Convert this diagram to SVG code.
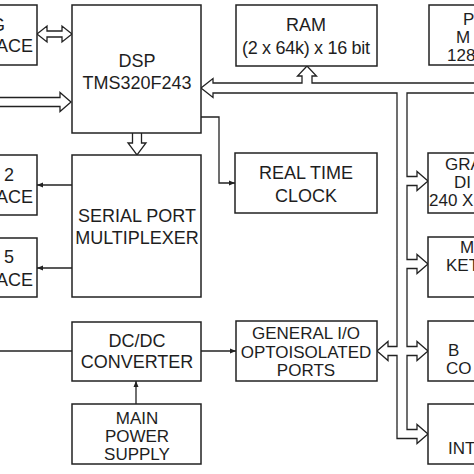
<svg xmlns="http://www.w3.org/2000/svg" width="474" height="474" viewBox="0 0 474 474">
<defs>
<style>
.box{fill:#fff;stroke:#222;stroke-width:1.5}
.ln{fill:none;stroke:#222;stroke-width:1.3}
.ha{fill:#fff;stroke:#222;stroke-width:1.3;stroke-linejoin:miter}
text{font-family:"Liberation Sans",Arial,sans-serif;font-size:18px;fill:#1e1e1e}
.s{font-size:17px}
.c{text-anchor:middle}
.e{text-anchor:end}
</style>
<marker id="ah" markerUnits="userSpaceOnUse" markerWidth="7" markerHeight="6" refX="6" refY="3" orient="auto">
<path d="M0,0.5 L6,3 L0,5.5 z" fill="#222"/>
</marker>
</defs>
<rect width="474" height="474" fill="#fff"/>

<g id="connectors">
<path class="ha" d="M37,34 L47,26 V31 H62 V26 L72,34 L62,42 V37 H47 V42 Z"/>
<path class="ha" d="M-2,97.5 H60 V92.5 L71,102 L60,111.5 V106.5 H-2"/>
<path class="ha" d="M132.5,133 V143 H128 L137,155 L146,143 H141.5 V133"/>
<path class="ln" d="M476,93 H407 V176.5 H417 V171.5 L428,181 L417,190.5 V185.5 H407 V259.5 H417 V254.5 L428,264 L417,273.5 V268.5 H407 V346.5 H417 V341.5 L428,351 L417,360.5 V355.5 H407 V429.5 H417 V424.5 L428,434 L417,443.5 V438.5 H397 V355.5 H388 V360.5 L377,351 L388,341.5 V346.5 H397 V93 H213 V97.5 L201,88 L213,78.5 V83 H302 V76 H297.5 L307,66 L316.5,76 H312 V83 H476"/>
<path class="ln" d="M201,117 H219 V183 H235" marker-end="url(#ah)"/>
<path class="ln" d="M72,185 H37" marker-end="url(#ah)"/>
<path class="ln" d="M72,268 H37" marker-end="url(#ah)"/>
<path class="ln" d="M-2,351 H72"/>
<path class="ln" d="M201,351 H236" marker-end="url(#ah)"/>
<path class="ln" d="M136,404 V381" marker-end="url(#ah)"/>
</g>

<g id="left-top">
<rect class="box" x="-4" y="5" width="41" height="60"/>
<text class="e" x="5" y="31">G</text>
<text class="e" x="33" y="52">ACE</text>
</g>
<g id="dsp">
<rect class="box" x="72" y="5" width="129" height="128"/>
<text class="c" x="137" y="67">DSP</text>
<text class="c" x="137" y="89">TMS320F243</text>
</g>
<g id="ram">
<rect class="box" x="236" y="5" width="141" height="61"/>
<text class="c" x="306" y="31">RAM</text>
<text class="c" x="306" y="54" textLength="128" lengthAdjust="spacing">(2 x 64k) x 16 bit</text>
</g>
<g id="right-top">
<rect class="box" x="429" y="5" width="60" height="60"/>
<text class="s" x="463" y="25">P</text>
<text class="s" x="456" y="43">M</text>
<text class="s" x="447" y="61">128</text>
</g>
<g id="left-mid">
<rect class="box" x="-4" y="155" width="41" height="60"/>
<text class="e" x="14" y="181">2</text>
<text class="e" x="33" y="203">ACE</text>
</g>
<g id="left-low">
<rect class="box" x="-4" y="238" width="41" height="59"/>
<text class="e" x="14" y="263">5</text>
<text class="e" x="33" y="286">ACE</text>
</g>
<g id="mux">
<rect class="box" x="72" y="155" width="129" height="142"/>
<text class="c" x="137" y="222">SERIAL PORT</text>
<text class="c" x="137" y="244">MULTIPLEXER</text>
</g>
<g id="rtc">
<rect class="box" x="235" y="153" width="142" height="60"/>
<text class="c" x="306" y="179">REAL TIME</text>
<text class="c" x="306" y="202">CLOCK</text>
</g>
<g id="graphic">
<rect class="box" x="428" y="153" width="60" height="60"/>
<text class="s" x="445" y="170">GRA</text>
<text class="s" x="454" y="188">DI</text>
<text class="s" x="429" y="206">240 X</text>
</g>
<g id="keyboard">
<rect class="box" x="428" y="237" width="60" height="60"/>
<text class="s" x="460" y="253">M</text>
<text class="s" x="446" y="271">KET</text>
</g>
<g id="dcdc">
<rect class="box" x="72" y="322" width="129" height="59"/>
<text class="c" x="137" y="347">DC/DC</text>
<text class="c" x="137" y="368">CONVERTER</text>
</g>
<g id="gpio">
<rect class="box" x="236" y="321" width="141" height="60"/>
<text class="c s" x="306" y="339">GENERAL I/O</text>
<text class="c s" x="306" y="358">OPTOISOLATED</text>
<text class="c s" x="306" y="376">PORTS</text>
</g>
<g id="bus-box">
<rect class="box" x="428" y="321" width="60" height="60"/>
<text class="s" x="448" y="356">B</text>
<text class="s" x="446" y="374">CO</text>
</g>
<g id="power">
<rect class="box" x="72" y="404" width="129" height="60"/>
<text class="c s" x="137" y="424">MAIN</text>
<text class="c s" x="137" y="442">POWER</text>
<text class="c s" x="137" y="460">SUPPLY</text>
</g>
<g id="int">
<rect class="box" x="428" y="404" width="60" height="60"/>
<text class="s" x="448" y="454">INT</text>
</g>
</svg>
